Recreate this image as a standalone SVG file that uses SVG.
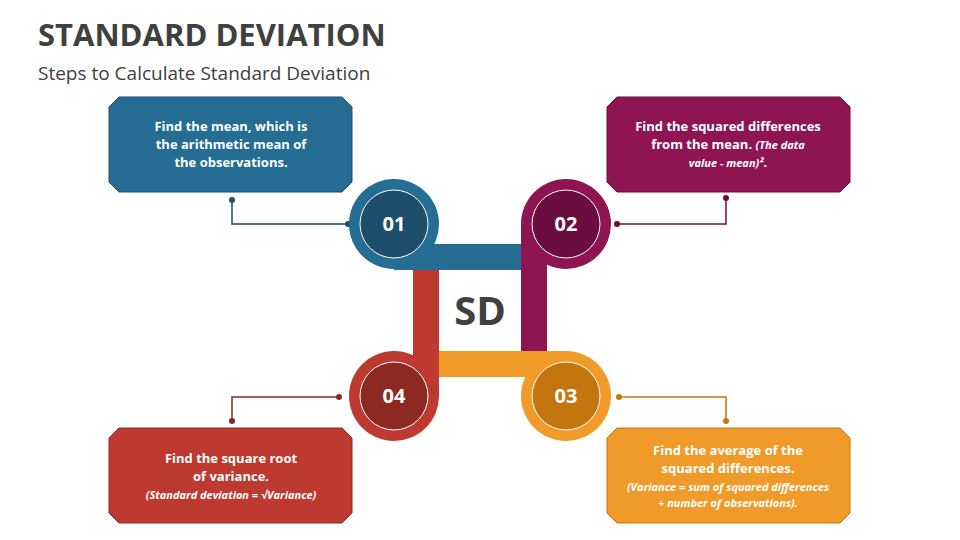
<svg xmlns="http://www.w3.org/2000/svg" width="960" height="540" viewBox="0 0 960 540">
<style>
text{font-family:"Open Sans","Liberation Sans",sans-serif}
.t{font-size:13px;font-weight:bold;fill:#fff;text-anchor:middle}
.i{font-style:italic;font-size:11px}
.n{font-size:20px;font-weight:bold;fill:#fff;text-anchor:middle}
.ln{fill:none;stroke-width:1.5}
</style>
<rect width="960" height="540" fill="#fff"/>
<text x="38" y="46" font-size="31" font-weight="bold" fill="#404040">STANDARD DEVIATION</text>
<text x="38" y="80" font-size="19" fill="#404040">Steps to Calculate Standard Deviation</text>
<g id="connectors">
<rect x="394" y="244" width="128" height="26" fill="#256D92"/>
<rect x="521" y="224" width="26" height="128" fill="#8E1552"/>
<rect x="413" y="270" width="26" height="126" fill="#BE3A31"/>
<rect x="439" y="351" width="127" height="26" fill="#F09A29"/>
<path class="ln" stroke="#1D4E6B" d="M232 200V224H348"/><circle cx="232" cy="200" r="3" fill="#1D4E6B"/><circle cx="348" cy="224" r="3" fill="#1D4E6B"/>
<path class="ln" stroke="#6A0E3E" d="M726 198V224H617"/><circle cx="726" cy="198" r="3" fill="#6A0E3E"/><circle cx="617" cy="224" r="3" fill="#6A0E3E"/>
<path class="ln" stroke="#8C2A22" d="M339 397H232V421"/><circle cx="339" cy="397" r="3" fill="#8C2A22"/><circle cx="232" cy="421" r="3" fill="#8C2A22"/>
<path class="ln" stroke="#C3760E" d="M619 397H726V421"/><circle cx="619" cy="397" r="3" fill="#C3760E"/><circle cx="726" cy="421" r="3" fill="#C3760E"/>
</g>
<g id="c01"><circle cx="394" cy="224" r="45" fill="#256D92"/><circle cx="394" cy="224" r="34" fill="#1D4E6B" stroke="#fff" stroke-width="1"/><text class="n" x="394" y="231">01</text></g>
<g id="c02"><circle cx="566" cy="224" r="45" fill="#8E1552"/><circle cx="566" cy="224" r="34" fill="#6A0E3E" stroke="#fff" stroke-width="1"/><text class="n" x="566" y="231">02</text></g>
<g id="c03"><circle cx="566" cy="396" r="45" fill="#F09A29"/><circle cx="566" cy="396" r="34" fill="#C3760E" stroke="#fff" stroke-width="1"/><text class="n" x="566" y="403">03</text></g>
<g id="c04"><circle cx="394" cy="396" r="45" fill="#BE3A31"/><circle cx="394" cy="396" r="34" fill="#8C2A22" stroke="#fff" stroke-width="1"/><text class="n" x="394" y="403">04</text></g>
<g id="sd"><text x="480" y="325" font-size="40" font-weight="bold" fill="#404040" text-anchor="middle">SD</text></g>
<g id="b1"><polygon points="119,97 342,97 352,107 352,182 342,192 119,192 109,182 109,107" fill="#256D92" stroke="#1D4E6B"/>
<text class="t" x="231" y="131">Find the mean, which is</text><text class="t" x="231" y="149">the arithmetic mean of</text><text class="t" x="231" y="167">the observations.</text></g>
<g id="b2"><polygon points="617,97 840,97 850,107 850,182 840,192 617,192 607,182 607,107" fill="#8E1552" stroke="#6A0E3E"/>
<text class="t" x="728" y="131">Find the squared differences</text><text class="t" x="728" y="149">from the mean. <tspan class="i">(The data</tspan></text><text class="t" x="728" y="167"><tspan class="i">value - mean)²</tspan>.</text></g>
<g id="b3"><polygon points="617,428 840,428 850,438 850,513 840,523 617,523 607,513 607,438" fill="#F09A29" stroke="#C3760E"/>
<text class="t" x="728" y="455">Find the average of the</text><text class="t" x="728" y="473">squared differences.</text><text class="t i" x="728" y="491">(Variance = sum of squared differences</text><text class="t i" x="728" y="507">÷ number of observations).</text></g>
<g id="b4"><polygon points="119,428 342,428 352,438 352,513 342,523 119,523 109,513 109,438" fill="#BE3A31" stroke="#8C2A22"/>
<text class="t" x="231" y="463">Find the square root</text><text class="t" x="231" y="481">of variance.</text><text class="t i" x="231" y="499">(Standard deviation = √Variance)</text></g>
</svg>
